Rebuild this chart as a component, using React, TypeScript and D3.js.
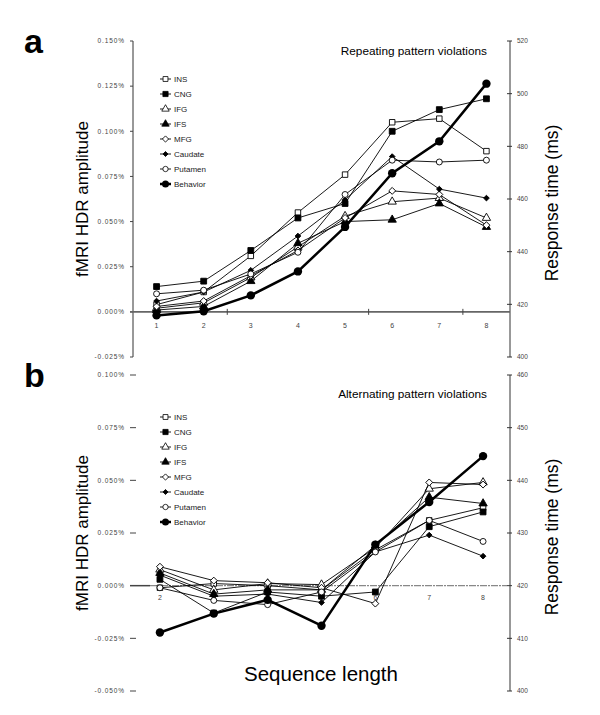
import React from 'react';
import * as d3 from 'd3';

// series order as in the legends
const regions = ['INS', 'CNG', 'IFG', 'IFS', 'MFG', 'Caudate', 'Putamen'];

// panel a: repeating pattern violations (fMRI % signal, behavior in ms)
const lengthsA = [1, 2, 3, 4, 5, 6, 7, 8];
const insA = [0.004, 0.011, 0.031, 0.055, 0.076, 0.105, 0.107, 0.089];
const cngA = [0.014, 0.017, 0.034, 0.052, 0.060, 0.100, 0.112, 0.118];
const ifgA = [0.002, 0.005, 0.019, 0.036, 0.053, 0.061, 0.063, 0.052];
const ifsA = [0.001, 0.003, 0.017, 0.038, 0.050, 0.051, 0.060, 0.047];
const mfgA = [0.003, 0.006, 0.020, 0.034, 0.052, 0.067, 0.065, 0.048];
const caudateA = [0.006, 0.011, 0.023, 0.042, 0.062, 0.086, 0.068, 0.063];
const putamenA = [0.010, 0.012, 0.021, 0.033, 0.065, 0.084, 0.083, 0.084];
const behaviorA = [415.8, 417.4, 423.4, 432.5, 449.4, 469.8, 481.9, 503.8];

// panel b: alternating pattern violations
const lengthsB = [2, 3, 4, 5, 6, 7, 8];
const insB = [-0.001, 0.001, 0.000, -0.002, 0.017, 0.031, 0.037];
const cngB = [0.003, -0.013, -0.003, -0.005, -0.003, 0.028, 0.035];
const ifgB = [0.0076, -0.002, 0.001, 0.0005, 0.018, 0.046, 0.049];
const ifsB = [0.006, -0.004, -0.002, -0.002, 0.019, 0.042, 0.039];
const mfgB = [0.009, 0.0024, 0.0014, -0.001, -0.0085, 0.049, 0.048];
const caudateB = [0.005, -0.005, -0.004, -0.008, 0.016, 0.024, 0.014];
const putamenB = [-0.001, -0.007, -0.009, -0.003, 0.016, 0.031, 0.021];
const behaviorB = [411.1, 414.7, 417.3, 412.4, 427.8, 435.9, 444.6];

const leftTicksA = [-0.025, 0, 0.025, 0.05, 0.075, 0.1, 0.125, 0.15];
const rightTicksA = [400, 420, 440, 460, 480, 500, 520];
const leftTicksB = [-0.05, -0.025, 0, 0.025, 0.05, 0.075, 0.1];
const rightTicksB = [400, 410, 420, 430, 440, 450, 460];

const FONT = '"Liberation Sans", Arial, sans-serif';

// diamonds are drawn as squares turned 45 degrees (rot)
const markers: { shape: d3.SymbolType; filled: boolean; size: number; rot: number }[] = [
  { shape: d3.symbolSquare, filled: false, size: 30, rot: 0 },
  { shape: d3.symbolSquare, filled: true, size: 34, rot: 0 },
  { shape: d3.symbolTriangle, filled: false, size: 30, rot: 0 },
  { shape: d3.symbolTriangle, filled: true, size: 30, rot: 0 },
  { shape: d3.symbolSquare, filled: false, size: 24, rot: 45 },
  { shape: d3.symbolSquare, filled: true, size: 16, rot: 45 },
  { shape: d3.symbolCircle, filled: false, size: 28, rot: 0 },
];

interface PanelProps {
  letter: string;
  title: string;
  lengths: number[];
  series: number[][];
  behavior: number[];
  leftTicks: number[];
  rightTicks: number[];
  top: number;
  bottom: number;
  alternating: boolean;
}

const Panel: React.FC<PanelProps> = ({
  letter, title, lengths, series, behavior, leftTicks, rightTicks, top, bottom, alternating,
}) => {
  const x = d3.scalePoint<number>().domain(lengths).range([133, 510]).padding(0.5);
  const step = x.step();
  const y = d3.scaleLinear().domain(d3.extent(leftTicks) as [number, number]).range([bottom, top]);
  const yr = d3.scaleLinear().domain(d3.extent(rightTicks) as [number, number]).range([bottom, top]);
  const line = d3.line<number>().x((_, i) => x(lengths[i]) as number);
  const legendY = top + (alternating ? 42 : 38);
  const y0 = y(0);

  return (
    <g fontFamily={FONT}>
      <text x={24} y={top + 12} fontSize={34} fontWeight="bold">{letter}</text>
      <text x={487} y={top + (alternating ? 23 : 14)} fontSize={11.8} textAnchor="end">{title}</text>

      {/* left axis */}
      {!alternating && <line x1={133} x2={133} y1={top} y2={bottom} stroke="#333" strokeWidth={1} />}
      {leftTicks.map((t) => (
        <g key={t}>
          <line x1={130} x2={alternating ? (t === 0 ? 150 : 136) : 133} y1={y(t)} y2={y(t)}
            stroke="#444" strokeWidth={alternating && t === 0 ? 1.5 : 1} />
          <text x={125} y={y(t)} dy="0.35em" fontSize={6.5} letterSpacing={0.9} textAnchor="end" fill="#444">
            {t.toFixed(3)}%
          </text>
        </g>
      ))}

      {/* right axis */}
      <line x1={510} x2={510} y1={top} y2={bottom} stroke="#333" strokeWidth={1} />
      {rightTicks.map((t) => (
        <g key={t}>
          <line x1={507} x2={512} y1={yr(t)} y2={yr(t)} stroke="#333" />
          <text x={517} y={yr(t)} dy="0.35em" fontSize={6.5} fill="#444">{t}</text>
        </g>
      ))}

      {/* x axis */}
      {alternating ? (
        <line x1={150} x2={507} y1={y0} y2={y0} stroke="#888" strokeWidth={1.2} strokeDasharray="7,1,2,1" />
      ) : (
        <>
          <line x1={130} x2={510} y1={y0} y2={y0} stroke="#666" strokeWidth={1.6} />
          {[2, 5, 7].map((k) => (
            <line key={k} x1={133 + k * step} x2={133 + k * step} y1={y0 - 3} y2={y0 + 3} stroke="#444" />
          ))}
        </>
      )}
      {lengths.map((l) => (
        <text key={l} x={x(l)} y={y0 + (alternating ? 14 : 16)} fontSize={7} textAnchor="middle" fill="#444">{l}</text>
      ))}

      {/* region series */}
      {series.map((vals, si) => {
        const m = markers[si];
        const sym = d3.symbol().type(m.shape).size(m.size)()!;
        return (
          <g key={si}>
            <path d={line.y((v) => y(v))(vals)!} fill="none" stroke="#000" strokeWidth={0.9} />
            {vals.map((v, i) => (
              <path key={i} d={sym} transform={`translate(${x(lengths[i])},${y(v)})rotate(${m.rot})`}
                fill={m.filled ? '#000' : '#fff'} stroke="#000" strokeWidth={0.9} />
            ))}
          </g>
        );
      })}

      {/* behavior on right axis */}
      <path d={line.y((v) => yr(v))(behavior)!} fill="none" stroke="#000" strokeWidth={2.5} />
      {behavior.map((v, i) => (
        <circle key={i} cx={x(lengths[i])} cy={yr(v)} r={4.2} fill="#000" />
      ))}

      {/* legend */}
      {[...regions, 'Behavior'].map((name, i) => {
        const ly = legendY + i * 15;
        const m = markers[i];
        return (
          <g key={name}>
            <line x1={160} x2={171} y1={ly} y2={ly} stroke="#000" strokeWidth={name === 'Behavior' ? 2.5 : 0.9} />
            {m ? (
              <path d={d3.symbol().type(m.shape).size(m.size * 0.8)()!} transform={`translate(165.5,${ly})rotate(${m.rot})`}
                fill={m.filled ? '#000' : '#fff'} stroke="#000" strokeWidth={0.8} />
            ) : (
              <circle cx={165.5} cy={ly} r={3.5} fill="#000" />
            )}
            <text x={174} y={ly} dy="0.35em" fontSize={8} fill="#222">{name}</text>
          </g>
        );
      })}

      <text transform={`translate(88,${(top + bottom) / 2})rotate(-90)`} fontSize={17} textAnchor="middle">
        fMRI HDR amplitude
      </text>
      <text transform={`translate(558,${(top + bottom) / 2 + 4})rotate(-90)`} fontSize={17.5} textAnchor="middle">
        Response time (ms)
      </text>
    </g>
  );
};

export default function App() {
  return (
    <svg width={600} height={715} style={{ display: 'block', position: 'absolute', left: 0, top: 0, background: '#fff' }}>
      <rect width={600} height={715} fill="#fff" />
      <Panel letter="a" title="Repeating pattern violations" lengths={lengthsA}
        series={[insA, cngA, ifgA, ifsA, mfgA, caudateA, putamenA]} behavior={behaviorA}
        leftTicks={leftTicksA} rightTicks={rightTicksA} top={41} bottom={357} alternating={false} />
      <Panel letter="b" title="Alternating pattern violations" lengths={lengthsB}
        series={[insB, cngB, ifgB, ifsB, mfgB, caudateB, putamenB]} behavior={behaviorB}
        leftTicks={leftTicksB} rightTicks={rightTicksB} top={375} bottom={691} alternating={true} />
      <text x={321} y={681} fontFamily={FONT} fontSize={20.5} textAnchor="middle">Sequence length</text>
    </svg>
  );
}
